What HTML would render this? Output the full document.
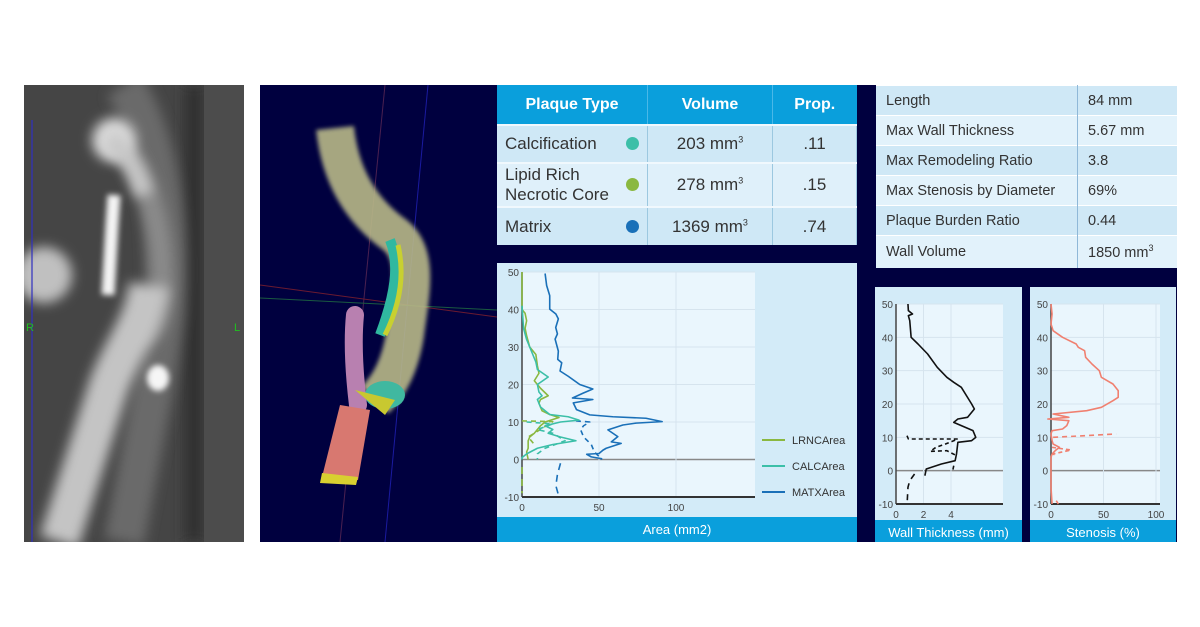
<!DOCTYPE html>
<html><head><meta charset="utf-8">
<style>
body{margin:0;width:1200px;height:627px;background:#fff;position:relative;overflow:hidden;font-family:"Liberation Sans",sans-serif}
.abs{position:absolute}
table{border-collapse:collapse}
#t1{left:497px;top:85px;width:360px;height:157px;font-size:17px;color:#333}
#t1 th{background:#0a9fdc;color:#fff;font-size:16px;height:37px;border-right:1px solid #4ab8e8}
#t1 td{border-top:2px solid #f0f8fd;border-right:1px solid #9cc8e0;padding:0 8px}
#t2{left:876px;top:85px;width:301px;height:183px;font-size:14.5px;color:#333}
#t2 td{padding:0 10px;border-top:1px solid #fff}
#t2 td:first-child{border-right:1px solid #8fb8d8}
.dot{display:inline-block;width:13px;height:13px;border-radius:50%;float:right;margin-top:3px}
sup{font-size:9px}
</style></head><body>
<div class="abs" style="left:24px;top:85px;width:220px;height:457px;background:#474747;overflow:hidden">
<svg width="220" height="457">
<defs><filter id="b6" filterUnits="userSpaceOnUse" x="-50" y="-50" width="320" height="560"><feGaussianBlur stdDeviation="6"/></filter><filter id="b3" filterUnits="userSpaceOnUse" x="-50" y="-50" width="320" height="560"><feGaussianBlur stdDeviation="3"/></filter></defs>
<rect x="0" y="0" width="220" height="457" fill="#454545"/>
<rect x="160" y="0" width="20" height="457" fill="#333" filter="url(#b6)"/>
<rect x="180" y="0" width="40" height="457" fill="#4c4c4c"/>
<path d="M100,0 C140,60 145,160 140,230 L130,300 L100,457" stroke="#6a6a6a" stroke-width="40" fill="none" filter="url(#b6)"/>
<path d="M85,50 C120,80 140,140 138,200 C136,240 125,260 110,240" stroke="#8a8a8a" stroke-width="22" fill="none" filter="url(#b6)"/>
<ellipse cx="90" cy="55" rx="22" ry="22" fill="#d8d8d8" filter="url(#b6)"/>
<path d="M85,55 Q110,70 120,110" stroke="#c8c8c8" stroke-width="18" fill="none" filter="url(#b6)"/>
<path d="M90,110 L88,140 L84,210" stroke="#f4f4f4" stroke-width="13" fill="none" filter="url(#b3)"/>
<ellipse cx="20" cy="190" rx="28" ry="28" fill="#c0c0c0" filter="url(#b6)"/>
<path d="M125,200 C120,240 100,260 85,300 L35,457" stroke="#c4c4c4" stroke-width="40" fill="none" filter="url(#b6)"/>
<ellipse cx="134" cy="293" rx="11" ry="13" fill="#f6f6f6" filter="url(#b3)"/>
<line x1="8" y1="35" x2="8" y2="457" stroke="#3030c0" stroke-width="1.2"/>
<text x="2" y="246" fill="#20c020" font-size="11">R</text>
<text x="210" y="246" fill="#20c020" font-size="11">L</text>
</svg></div>
<div class="abs" style="left:260px;top:85px;width:917px;height:457px;background:#00003f"></div>
<svg class="abs" style="left:260px;top:85px" width="237" height="457">
<defs><filter id="g2" filterUnits="userSpaceOnUse" x="-50" y="-50" width="340" height="560"><feGaussianBlur stdDeviation="2"/></filter></defs>
<line x1="125" y1="0" x2="80" y2="457" stroke="#4a2050" stroke-width="1"/>
<line x1="168" y1="0" x2="125" y2="457" stroke="#1a1aa0" stroke-width="1"/>
<line x1="0" y1="200" x2="237" y2="232" stroke="#6a1a30" stroke-width="1"/>
<line x1="0" y1="213" x2="237" y2="225" stroke="#1a5a40" stroke-width="1"/>
<path d="M75,43 C80,90 100,125 135,150 C160,170 150,210 145,250 C140,280 130,300 115,315" stroke="#b8b888" stroke-width="38" fill="none" opacity="0.9" filter="url(#g2)"/>
<path d="M130,155 C140,180 135,210 120,250" stroke="#30b8a0" stroke-width="10" fill="none"/>
<path d="M138,160 C145,190 140,220 125,250" stroke="#c8d030" stroke-width="5" fill="none"/>
<path d="M95,230 C92,260 95,295 98,320" stroke="#b880b0" stroke-width="18" fill="none" stroke-linecap="round"/>
<path d="M80,320 L110,325 L98,395 L62,392 Z" fill="#d87870"/>
<ellipse cx="125" cy="310" rx="20" ry="14" fill="#40b8a0"/>
<path d="M95,305 L135,315 L125,330 Z" fill="#c8c830"/>
<path d="M62,388 L98,392 L96,400 L60,398 Z" fill="#d8d030"/>
</svg>
<table id="t1" class="abs">
<tr style="background:#0a9fdc"><th style="width:148px">Plaque Type</th><th style="width:122px">Volume</th><th style="border-right:none">Prop.</th></tr>
<tr style="background:#cfe8f6;height:38px"><td>Calcification<span class="dot" style="background:#3cbfa8"></span></td><td style="text-align:center">203 mm<sup>3</sup></td><td style="text-align:center">.11</td></tr>
<tr style="background:#dff0fa;height:44px"><td style="line-height:20px">Lipid Rich<span class="dot" style="background:#8ab840;margin-top:13px"></span><br>Necrotic Core</td><td style="text-align:center">278 mm<sup>3</sup></td><td style="text-align:center">.15</td></tr>
<tr style="background:#cfe8f6;height:38px"><td>Matrix<span class="dot" style="background:#1a70b8"></span></td><td style="text-align:center">1369 mm<sup>3</sup></td><td style="text-align:center">.74</td></tr>
</table>
<table id="t2" class="abs">
<tr style="background:#cfe8f6"><td style="width:181px">Length</td><td>84 mm</td></tr>
<tr style="background:#e2f2fb"><td>Max Wall Thickness</td><td>5.67 mm</td></tr>
<tr style="background:#cfe8f6"><td>Max Remodeling Ratio</td><td>3.8</td></tr>
<tr style="background:#e2f2fb"><td>Max Stenosis by Diameter</td><td>69%</td></tr>
<tr style="background:#cfe8f6"><td>Plaque Burden Ratio</td><td>0.44</td></tr>
<tr style="background:#e2f2fb"><td>Wall Volume</td><td>1850 mm<sup>3</sup></td></tr>
</table>
<svg class="abs" id="chart" style="left:0;top:0" width="1200" height="627"></svg>
<script>
// Area chart data: [area, position]
const matxSolid=[[15,49.6],[16,46.4],[18,43.7],[18,40.1],[22,38.8],[23.6,37.5],[21.9,35.2],[23,33.5],[21.5,32.1],[23.6,28.9],[23.2,26.7],[25.8,25.8],[24.7,23.6],[30,22.2],[37.5,20],[46,18.8],[39.7,17.7],[32.8,16.4],[46,16],[33.3,15.1],[35.4,13.3],[44,11.9],[59,11.4],[80.5,11],[91,10.1],[74,9.7],[65.5,9.2],[55.8,7.9],[62.2,6.1],[58,4.7],[64.4,4.3],[54.7,3],[52.6,2.5],[50,1.6],[42,1.4],[45,0.7],[52,0.2]];
const matxDash=[[35,10.3],[44,10],[40,9],[38,8],[40,6],[45,4],[47,2],[52,0]];
const matxDashBelow=[[25,-1],[23,-4],[22,-7],[24,-10]];
const lrncSolid=[[0,50],[0,40],[2,39],[3,37],[2,35],[3,33],[5,30],[9,28],[10,25],[11,23],[8,21],[12,19],[17,17],[12,16],[11,15],[13,13],[18,12],[24,11.2],[15,10],[12,9],[10,8],[8,7],[5,6],[4,5],[4,3],[3,2],[4,0]];
const lrncDash=[[0,10.3],[20,10.1],[10,7.5],[4,6],[8,4]];
const lrncDashBelow=[[0,-2],[0,-9]];
const calcSolid=[[0,41],[1,35],[3,32],[6,29],[9,26],[10,24],[17,22],[10,20],[11,18],[13,17],[10,16],[12,14],[18,12],[30,11.4],[37,10.5],[25,10],[15,9],[20,8],[17,7],[25,6],[35,5],[20,4],[10,3],[3,1.5],[0,0.5],[0,0]];
const calcDash=[[3,10],[20,9.5],[10,8],[20,7],[28,5],[15,3],[10,1.5],[10,0]];
const areaXTicks=[0,50,100];
const posTicks=[-10,0,10,20,30,40,50];
const legendLabels=["LRNCArea","CALCArea","MATXArea"];
// Wall thickness: [mm, position]
const wallSolid=[[0.87,50],[0.9,48],[1.2,47],[0.9,46.5],[1,45],[1.1,40],[1.6,38],[2.3,35],[3,31],[3.7,28],[4.2,26.5],[4.75,25],[5.5,20],[5.7,18.5],[5.2,16],[4.5,15.5],[4.2,14.5],[4.75,13.5],[5.6,12],[5.8,10],[5.5,9],[4.5,8.5],[4.4,5],[4.3,3],[3.3,2],[2.2,0.5],[2.1,-1.5]];
const wallDash1=[[0.8,10.5],[0.9,9.5],[4.5,9.5],[3.6,8],[2.9,7],[2.5,5.8],[3.7,6],[4.4,4.5]];
const wallDash2=[[4.2,1.5],[4.1,-0.5]];
const wallDash3=[[1.35,-1],[1,-3],[0.87,-5],[0.82,-9],[0.82,-10]];
const wallXTicks=[0,2,4];
// Stenosis: [%, position]
const stenSolid=[[0,50],[1,47],[0,44],[2,42],[11,40],[24,38],[26,37],[32,36],[33,34],[39,32],[46,30],[48,28],[59,26],[64,24],[64,22],[59,21],[48,19],[34,18],[2,17],[17,16],[-3,15.5],[17,15],[15,13.5],[11,12.5],[1,12],[0,11],[1,9],[2,8],[8,7],[4,6],[1,5],[0,4],[0,0],[0,-5],[1,-10]];
const stenDash1=[[2,10],[62,11]];
const stenDash2=[[1,7],[19,6.2],[2,5],[5,4.5]];
const stenDash3=[[5,-9],[7,-10]];
const stenXTicks=[0,50,100];

const svg=document.getElementById('chart');
const NS='http://www.w3.org/2000/svg';
function mk(tag,at,parent){const e=document.createElementNS(NS,tag);for(const k in at)e.setAttribute(k,at[k]);(parent||svg).appendChild(e);return e;}
function lin(d0,d1,r0,r1){return v=>r0+(v-d0)/(d1-d0)*(r1-r0);}

function panel(o){
  const bg=mk('rect',{x:o.px,y:o.py,width:o.pw,height:o.ph,fill:'#d3ebf8'});
  
  
  const x=lin(o.xd[0],o.xd[1],o.x0,o.x1), y=lin(-10,50,o.yb,o.yt);
  const pa=mk('rect',{x:o.x0,y:o.yt,width:o.pr-o.x0,height:o.yb-o.yt,fill:'#eaf6fd'});
  
  
  posTicks.forEach(t=>{
    const gl=mk('line',{x1:o.x0,x2:o.pr,y1:y(t),y2:y(t),stroke:t===0?'#888':'#d6e4ee','stroke-width':t===0?1.5:1});
    
    
    const tl=mk('text',{x:o.x0-3,y:y(t)+4,'text-anchor':'end','font-size':10,fill:'#444'});
    tl.textContent=t;
    
    
  });
  o.xt.forEach(t=>{
    const gl=mk('line',{x1:x(t),x2:x(t),y1:o.yt,y2:o.yb,stroke:'#d6e4ee'});
    
    
    const tl=mk('text',{x:x(t),y:o.yb+14,'text-anchor':'middle','font-size':10,fill:'#444'});
    tl.textContent=t;
    
    
  });
  const ax=mk('line',{x1:o.x0,x2:o.x0,y1:o.yt,y2:o.yb,stroke:'#444','stroke-width':1.5});
  
  
  const bx=mk('line',{x1:o.x0,x2:o.pr,y1:o.yb,y2:o.yb,stroke:'#333','stroke-width':2});
  
  
  const ft=mk('rect',{x:o.px,y:o.fy,width:o.pw,height:o.py+o.ph-o.fy,fill:'#0a9fdc'});
  
  
  const tt=mk('text',{x:o.px+o.pw/2,y:o.fy+17,'text-anchor':'middle','font-size':13,fill:'#fff'});
  tt.textContent=o.title;
  
  
  return {x,y};
}
function line(s,arr,color,dash,name){
  const p=mk('polyline',{points:arr.map(d=>s.x(d[0])+','+s.y(d[1])).join(' '),fill:'none',stroke:color,'stroke-width':1.6,'stroke-linejoin':'round'});
  if(dash)p.setAttribute('stroke-dasharray',dash);
  
  
}
const G='#8ab840',T='#3cbfa8',B='#1a70b8';
const a=panel({name:'area',px:497,py:263,pw:360,ph:279,x0:522,x1:676,xd:[0,100],pr:755,yt:272,yb:497,fy:517,xt:areaXTicks,title:'Area (mm2)'});
line(a,matxSolid,B,null,'matx-area-line');
line(a,matxDash,B,'5,4','matx-area-dashed');
line(a,matxDashBelow,B,'7,5','matx-area-dashed-below');
line(a,lrncSolid,G,null,'lrnc-area-line');
line(a,lrncDash,G,'5,4','lrnc-area-dashed');
line(a,lrncDashBelow,G,'7,5','lrnc-area-dashed-below');
line(a,calcSolid,T,null,'calc-area-line');
line(a,calcDash,T,'5,4','calc-area-dashed');
[G,T,B].forEach((c,i)=>{
  const ly=440+i*26;
  const l=mk('line',{x1:762,x2:785,y1:ly,y2:ly,stroke:c,'stroke-width':2});
  
  
  const t=mk('text',{x:792,y:ly+4,'font-size':11,fill:'#333'});
  t.textContent=legendLabels[i];
  
  
});
const w=panel({name:'wall',px:875,py:287,pw:147,ph:255,x0:896,x1:951,xd:[0,4],pr:1003,yt:304,yb:504,fy:520,xt:wallXTicks,title:'Wall Thickness (mm)'});
line(w,wallSolid,'#111',null,'wall-thickness-line');
line(w,wallDash1,'#111','4,3','wall-thickness-dashed');
line(w,wallDash2,'#111','4,3','wall-thickness-dashed-2');
line(w,wallDash3,'#111','6,5','wall-thickness-dashed-below');
const st=panel({name:'stenosis',px:1030,py:287,pw:146,ph:255,x0:1051,x1:1156,xd:[0,100],pr:1160,yt:304,yb:504,fy:520,xt:stenXTicks,title:'Stenosis (%)'});
line(st,stenSolid,'#f08070',null,'stenosis-line');
line(st,stenDash1,'#f08070','5,4','stenosis-dashed');
line(st,stenDash2,'#f08070','4,3','stenosis-dashed-2');
line(st,stenDash3,'#f08070','5,4','stenosis-dashed-below');
</script>
</body></html>
